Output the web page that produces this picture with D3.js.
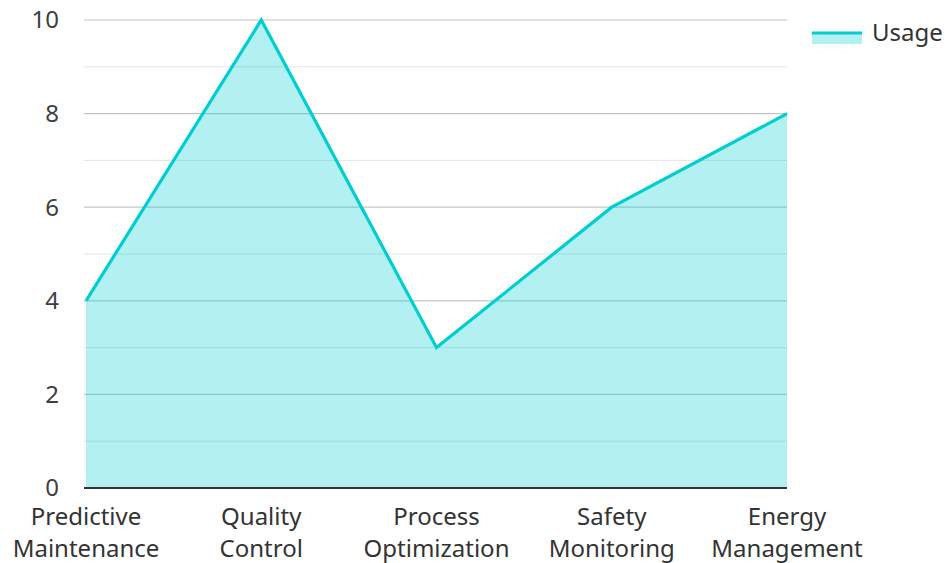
<!DOCTYPE html>
<html><head><meta charset="utf-8">
<script src="https://cdn.jsdelivr.net/npm/d3@7"></script>
<style>body{margin:0;background:#fff;} text{font-family:"Noto Sans","Open Sans",sans-serif;}</style>
</head><body>
<svg id="c" width="945" height="563"></svg>
<script>
const categories = ["Predictive Maintenance","Quality Control","Process Optimization","Safety Monitoring","Energy Management"];
const usage = [4, 10, 3, 6, 8];
const yTicks = [0, 2, 4, 6, 8, 10];
const minorTicks = [1, 3, 5, 7, 9];
const seriesName = "Usage";

(function () {
const svg = d3.select("#c");
const mLeft = 86, mRight = 787, mTop = 20, mBottom = 488;
const x = d3.scalePoint().domain(categories).range([mLeft, mRight]);
const y = d3.scaleLinear().domain([0, 10]).range([mBottom, mTop]);
const color = "#00CED1";
const fs = 24;

// minor grid
svg.append("g").selectAll("line").data(minorTicks).join("line")
  .attr("x1", mLeft - 2).attr("x2", mRight).attr("y1", d => y(d)).attr("y2", d => y(d))
  .attr("stroke", "#e3e3e3").attr("stroke-width", 1);
// major grid
svg.append("g").selectAll("line").data(yTicks.filter(d => d > 0)).join("line")
  .attr("x1", mLeft - 2).attr("x2", mRight).attr("y1", d => y(d)).attr("y2", d => y(d))
  .attr("stroke", "#c4c4c4").attr("stroke-width", 1.2);

// y labels
svg.append("g").selectAll("text").data(yTicks).join("text")
  .attr("x", 59).attr("y", d => y(d)).attr("dy", "0.35em")
  .attr("text-anchor", "end").attr("font-size", fs).attr("fill", "#404040")
  .text(d => d);

svg.append("path").datum(categories)
  .attr("d", d3.area().x(d => x(d)).y0(y(0)).y1((d, i) => y(usage[i])))
  .attr("fill", color).attr("fill-opacity", 0.3);
svg.append("path").datum(categories)
  .attr("d", d3.line().x(d => x(d)).y((d, i) => y(usage[i])))
  .attr("fill", "none").attr("stroke", color).attr("stroke-width", 3.2).attr("stroke-linejoin", "miter");

// x axis line
svg.append("line").attr("x1", mLeft - 2).attr("x2", mRight).attr("y1", mBottom).attr("y2", mBottom)
  .attr("stroke", "#333").attr("stroke-width", 2);

// x labels
const xl = svg.append("g").selectAll("text").data(categories).join("text")
  .attr("x", d => x(d)).attr("y", 525).attr("text-anchor", "middle")
  .attr("font-size", fs).attr("fill", "#333");
xl.each(function(d) {
  const words = d.split(" ");
  d3.select(this).selectAll("tspan").data(words).join("tspan")
    .attr("x", x(d)).attr("dy", (w, i) => i === 0 ? 0 : 32).text(w => w);
});

// legend
const lg = svg.append("g");
lg.append("rect").attr("x", 812).attr("y", 32).attr("width", 50).attr("height", 12)
  .attr("fill", color).attr("fill-opacity", 0.3);
lg.append("line").attr("x1", 812).attr("x2", 862).attr("y1", 33).attr("y2", 33)
  .attr("stroke", color).attr("stroke-width", 3.2);
lg.append("text").attr("x", 872).attr("y", 33).attr("dy", "0.35em")
  .attr("font-size", fs).attr("fill", "#333").text(seriesName);
})();
</script>
</body></html>
